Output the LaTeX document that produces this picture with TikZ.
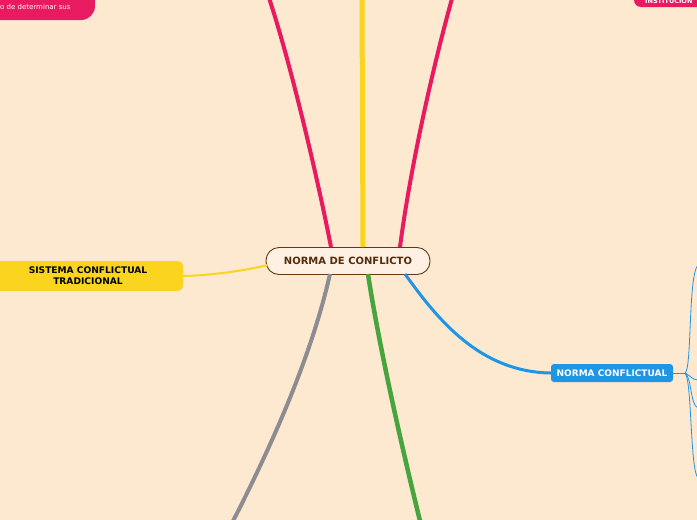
\documentclass[tikz,border=0pt]{standalone}
\usepackage{fontspec}
\setmainfont{DejaVu Sans}
\usepackage{xcolor}
\usetikzlibrary{positioning}
\definecolor{bgpeach}{RGB}{253,232,208}
\definecolor{brownline}{RGB}{105,55,15}
\definecolor{pinkbr}{RGB}{233,27,96}
\definecolor{yellowbr}{RGB}{250,212,30}
\definecolor{bluebr}{RGB}{30,150,228}
\definecolor{greybr}{RGB}{140,140,145}
\definecolor{greenbr}{RGB}{70,165,60}
\tikzset{topic/.style={rounded corners=5pt,inner sep=0pt,align=center,font=\bfseries\fontsize{9.1}{11}\selectfont}}

\begin{document}
\begin{tikzpicture}[x=1pt,y=-1pt]
  \fill[bgpeach] (0,0) rectangle (697,520);
  \useasboundingbox (0,0) rectangle (697,520);

  % Central topic
  \node[draw=brownline,fill=bgpeach!60!white,rounded corners=13pt,line width=0.9pt,minimum width=164pt,minimum height=27pt,text=brownline!80!black,font=\bfseries\fontsize{10}{12}\selectfont] (norma) at (348,261) {NORMA DE CONFLICTO};

  % Main topics
  \node[topic,fill=yellowbr,minimum width=190pt,minimum height=30pt] (sistema) at (88,276) {SISTEMA CONFLICTUAL\\TRADICIONAL};
  \node[topic,fill=bluebr,text=white,minimum width=122pt,minimum height=18pt,rounded corners=3pt,font=\bfseries\fontsize{9}{11}\selectfont] (conflictual) at (612,373) {NORMA CONFLICTUAL};
  \node[topic,fill=pinkbr,minimum width=200pt,minimum height=60pt,rounded corners=14pt] (determinar) at (-5,-10) {};
  \node[anchor=west,text=white,font=\fontsize{7}{8}\selectfont,inner sep=0pt] (detxt) at (0,7) {o de determinar sus};
  \node[topic,fill=pinkbr,minimum width=120pt,minimum height=30pt,rounded corners=7pt] (institucion) at (694,-8) {};
  \node[anchor=west,text=white,font=\bfseries\fontsize{6.5}{7}\selectfont,inner sep=0pt] (insttxt) at (645,1) {INSTITUCIÓN};

  % Free ends
  \coordinate (pinkl) at (268,-5);
  \coordinate (yelt) at (362,-5);
  \coordinate (pinkr) at (453,-5);
  \coordinate (greyb) at (231,525);
  \coordinate (greenb) at (421,525);
  \coordinate (knot) at (685,373);

  % Branches
  \draw[pinkbr,line width=4pt] (331,247) .. controls (318,180) and (290,60) .. (pinkl);
  \draw[yellowbr,line width=5pt] (363,247) -- (yelt);
  \draw[pinkbr,line width=4pt] (400,247) .. controls (410,170) and (432,70) .. (pinkr);
  \draw[yellowbr,line width=2pt] (norma.west) ++(2,4) .. controls (240,272) and (200,276) .. (sistema.east);
  \draw[greybr,line width=4pt] (330,274) .. controls (315,340) and (285,420) .. (greyb);
  \draw[greenbr,line width=4.5pt] (368,274) .. controls (378,340) and (400,440) .. (greenb);
  \draw[bluebr,line width=3pt] (405,274) .. controls (438,320) and (480,372) .. (conflictual.west);

  % Sub-branches of NORMA CONFLICTUAL
  \draw[bluebr,line width=0.8pt] (conflictual.east) -- (knot);
  \draw[bluebr,line width=0.8pt] (knot) .. controls (692,370) and (688,275) .. (698,265);
  \draw[bluebr,line width=0.8pt] (knot) .. controls (690,375) and (692,380) .. (698,380);
  \draw[bluebr,line width=0.8pt] (knot) .. controls (692,378) and (690,405) .. (698,408);
  \draw[bluebr,line width=0.8pt] (knot) .. controls (692,380) and (690,470) .. (698,478);
\end{tikzpicture}
\end{document}
